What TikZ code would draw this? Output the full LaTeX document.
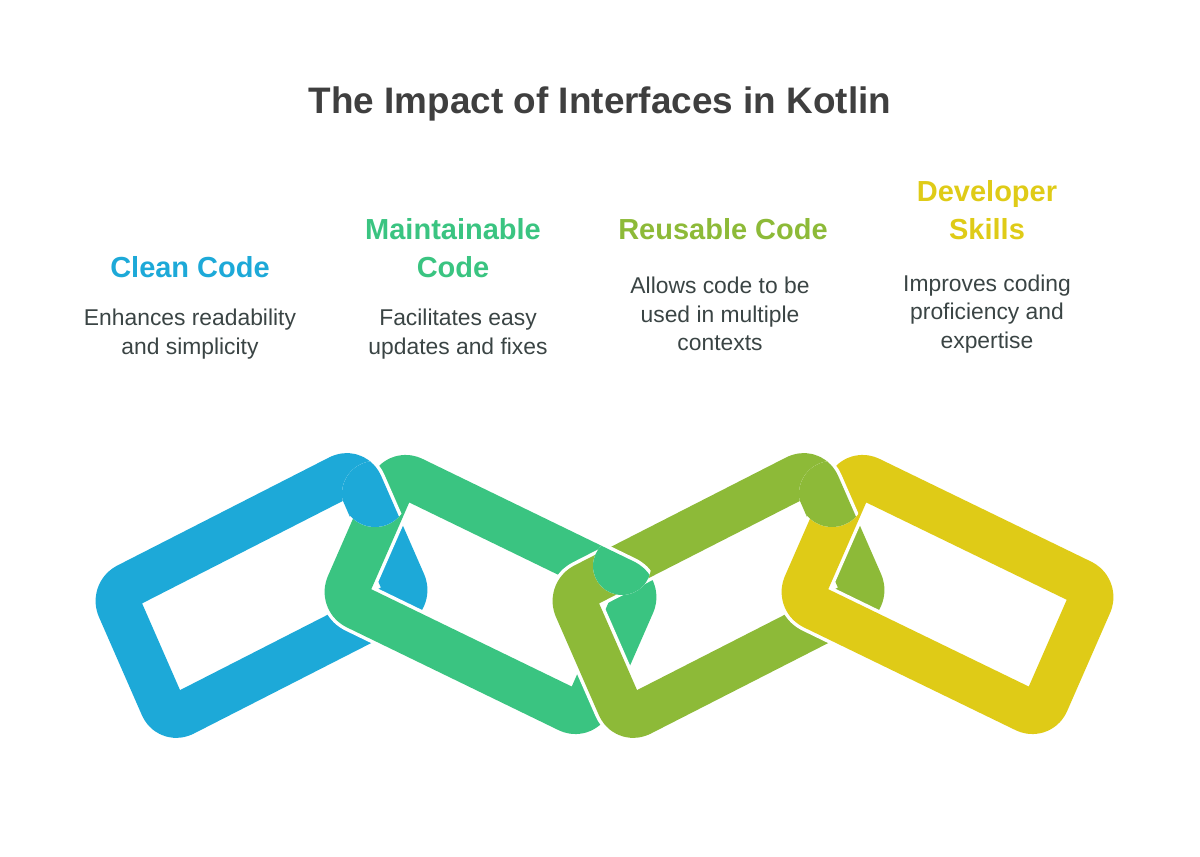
\documentclass[tikz,border=0pt]{standalone}
\usepackage{fontspec}
\setmainfont{Liberation Sans}
\definecolor{cblue}{HTML}{1DA9D8}
\definecolor{cgreen}{HTML}{3AC481}
\definecolor{colive}{HTML}{8DBA38}
\definecolor{cyellow}{HTML}{DFCB17}
\definecolor{ctitle}{HTML}{3F3F3F}
\definecolor{cbody}{HTML}{3A4444}
\tikzset{
  ring/.style={line width=0.9cm, rounded corners=0.32cm, line join=round},
  ringedge/.style={line width=1.04cm, rounded corners=0.32cm, line join=round, white},
  head/.style={font=\bfseries\fontsize{16.5}{21.6}\selectfont, align=center},
  body/.style={font=\fontsize{13}{16.2}\selectfont, text=cbody, align=center},
}
\def\bluepath{(141,657) -- (169,721) -- (410,598) -- (354,470) -- (113,593) -- cycle}
\def\greenpath{(370,536) -- (398,472) -- (639,589) -- (583,717) -- (342,600) -- cycle}
\def\olivepath{(598,657) -- (626,721) -- (867,598) -- (811,470) -- (570,593) -- cycle}
\def\yellowpath{(827,536) -- (855,472) -- (1096,589) -- (1040,717) -- (799,600) -- cycle}
\begin{document}
\begin{tikzpicture}[x=0.02cm,y=-0.02cm]
\useasboundingbox (0,0) rectangle (1200,857);
\node[font=\bfseries\fontsize{21}{25}\selectfont, text=ctitle] (title) at (600,104) {The Impact of Interfaces in Kotlin};
% headings
\node[head, text=cblue] (h1) at (190,267) {Clean Code};
\node[head, text=cgreen] (h2) at (453,248) {Maintainable\\Code};
\node[head, text=colive] (h3) at (723,229) {Reusable Code};
\node[head, text=cyellow] (h4) at (987,210) {Developer\\Skills};
% bodies
\node[body] (b1) at (190,334) {Enhances readability\\and simplicity};
\node[body] (b2) at (458,334) {Facilitates easy\\updates and fixes};
\node[body] (b3) at (720,314) {Allows code to be\\used in multiple\\contexts};
\node[body] (b4) at (987,314) {Improves coding\\proficiency and\\expertise};
% chain
\draw[ring, cblue] \bluepath;
\draw[ringedge] \greenpath; \draw[ring, cgreen] \greenpath;
\draw[ringedge] \olivepath; \draw[ring, colive] \olivepath;
\draw[ringedge] \yellowpath; \draw[ring, cyellow] \yellowpath;
\begin{scope}
  \clip (375,494) circle[radius=0.66cm];
  \draw[ringedge] \bluepath; \draw[ring, cblue] \bluepath;
\end{scope}
\begin{scope}
  \clip (622,566) circle[radius=0.58cm];
  \draw[ringedge] \greenpath; \draw[ring, cgreen] \greenpath;
\end{scope}
\begin{scope}
  \clip (832,494) circle[radius=0.66cm];
  \draw[ringedge] \olivepath; \draw[ring, colive] \olivepath;
\end{scope}
\end{tikzpicture}
\end{document}
